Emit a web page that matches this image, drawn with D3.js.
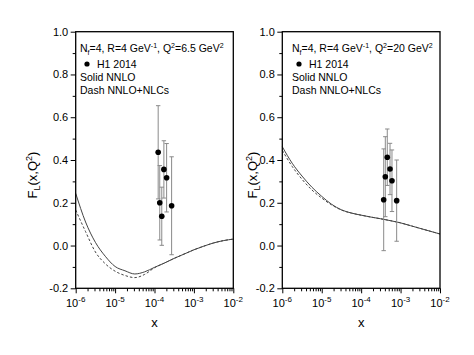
<!DOCTYPE html>
<html><head><meta charset="utf-8">
<script src="https://cdn.jsdelivr.net/npm/d3@7"></script>
<style>body{margin:0;background:#fff}svg{display:block}text{font-family:"Liberation Sans",Arial,sans-serif}</style>
</head><body><svg id="c" width="474" height="355"></svg>
<script>
// ---- data ----
const xGrid = [1e-6,1.78e-6,3.16e-6,5.62e-6,1e-5,1.78e-5,3.16e-5,5.62e-5,1e-4,1.78e-4,3.16e-4,5.62e-4,1e-3,1.78e-3,3.16e-3,5.62e-3,1e-2];
// Q2 = 6.5 GeV^2
const nnloA   = [0.244,0.110,0.015,-0.050,-0.098,-0.118,-0.133,-0.123,-0.102,-0.082,-0.060,-0.040,-0.020,-0.003,0.012,0.023,0.030];
const nlcA    = [0.166,0.065,-0.030,-0.085,-0.120,-0.140,-0.150,-0.135,-0.104,-0.082,-0.060,-0.040,-0.020,-0.003,0.012,0.023,0.030];
const h1xA    = [1.24e-4,1.36e-4,1.53e-4,1.73e-4,2.03e-4,2.72e-4];
const h1yA    = [0.436,0.200,0.137,0.356,0.317,0.186];
const h1eA    = [0.218,0.174,0.136,0.134,0.160,0.229];
// Q2 = 20 GeV^2
const nnloB   = [0.462,0.385,0.325,0.273,0.230,0.193,0.167,0.152,0.142,0.133,0.125,0.116,0.106,0.093,0.080,0.067,0.054];
const nlcB    = [0.445,0.370,0.310,0.260,0.222,0.190,0.166,0.152,0.142,0.133,0.125,0.116,0.106,0.093,0.080,0.067,0.054];
const h1xB    = [3.73e-4,4.10e-4,4.60e-4,5.40e-4,6.05e-4,7.96e-4];
const h1yB    = [0.214,0.322,0.413,0.358,0.303,0.210];
const h1eB    = [0.238,0.187,0.132,0.120,0.144,0.190];
const yTicks  = [-0.2,0.0,0.2,0.4,0.6,0.8,1.0];
const yMinor  = [-0.1,0.1,0.3,0.5,0.7,0.9];
const xTicks  = [1e-6,1e-5,1e-4,1e-3,1e-2];
const xTickExp = ["-6","-5","-4","-3","-2"];
const q2Labels = ["6.5","20"];

const svg = d3.select("#c");
const panels = [
  {x0:75.7, x1:233.3, lx:80, nnlo:nnloA, nlc:nlcA, hx:h1xA, hy:h1yA, he:h1eA, q2:q2Labels[0], ytx:37},
  {x0:282.3, x1:440, lx:292, nnlo:nnloB, nlc:nlcB, hx:h1xB, hy:h1yB, he:h1eB, q2:q2Labels[1], ytx:257}
];
const yTop = 31.7, yBot = 288.3;
const fmt = v => d3.format(".1f")(v).replace("−","-");

panels.forEach(p => {
  const x = d3.scaleLog().domain([1e-6,1e-2]).range([p.x0,p.x1]);
  const y = d3.scaleLinear().domain([-0.2,1.0]).range([yBot,yTop]);
  const g = svg.append("g");

  // minor x ticks
  const minor = [];
  for (let e=-6; e<-2; e++) for (let m=2; m<=9; m++) minor.push(m*Math.pow(10,e));
  g.append("g").attr("transform",`translate(0,${yBot})`)
    .call(d3.axisBottom(x).tickValues(minor).tickSize(3).tickFormat(""))
    .call(a=>a.select(".domain").remove())
    .selectAll("line").attr("stroke","#000").attr("stroke-width",1);
  const xa = g.append("g").attr("transform",`translate(0,${yBot})`)
    .call(d3.axisBottom(x).tickValues(xTicks).tickSize(5).tickFormat(""));
  xa.select(".domain").remove();
  xa.selectAll("line").attr("stroke","#000").attr("stroke-width",1);
  xTicks.forEach((t,i)=>{
    const tx = g.append("text").attr("x",x(t)).attr("y",307).attr("text-anchor","middle")
      .attr("font-size",11).attr("fill","#000");
    tx.append("tspan").text("10");
    tx.append("tspan").attr("dy",-5).attr("font-size",8).text(xTickExp[i]);
  });
  g.append("text").attr("x",(p.x0+p.x1)/2).attr("y",327).attr("text-anchor","middle")
    .attr("font-size",13).text("x");

  // y axis
  g.append("g").attr("transform",`translate(${p.x0},0)`)
    .call(d3.axisLeft(y).tickValues(yMinor).tickSize(3).tickFormat(""))
    .call(a=>a.select(".domain").remove())
    .selectAll("line").attr("stroke","#000");
  const ya = g.append("g").attr("transform",`translate(${p.x0},0)`)
    .call(d3.axisLeft(y).tickValues(yTicks).tickSize(5).tickPadding(2.5).tickFormat(fmt));
  ya.select(".domain").remove();
  ya.selectAll("line").attr("stroke","#000");
  ya.selectAll("text").attr("font-size",11).attr("fill","#000")
    .attr("font-family",'"Liberation Sans",Arial,sans-serif');

  const yt = g.append("text").attr("transform",`translate(${p.ytx},175) rotate(-90)`)
    .attr("text-anchor","middle").attr("font-size",13);
  yt.append("tspan").text("F");
  yt.append("tspan").attr("dy",3).attr("font-size",9).text("L");
  yt.append("tspan").attr("dy",-3).text("(x,Q");
  yt.append("tspan").attr("dy",-5).attr("font-size",9).text("2");
  yt.append("tspan").attr("dy",5).text(")");

  // curves
  const line = d3.line().x((d,i)=>x(xGrid[i])).y(d=>y(d)).curve(d3.curveMonotoneX);
  g.append("path").datum(p.nlc).attr("d",line).attr("fill","none")
    .attr("stroke","#444").attr("stroke-width",1).attr("stroke-dasharray","2.5,2");
  g.append("path").datum(p.nnlo).attr("d",line).attr("fill","none")
    .attr("stroke","#444").attr("stroke-width",1);

  // error bars
  const eb = g.append("g").attr("stroke","#8a8a8a").attr("stroke-width",1);
  p.hx.forEach((xv,i)=>{
    const cx = x(xv), yh = y(p.hy[i]+p.he[i]), yl = y(p.hy[i]-p.he[i]);
    eb.append("line").attr("x1",cx).attr("x2",cx).attr("y1",yh).attr("y2",yl);
    eb.append("line").attr("x1",cx-2.2).attr("x2",cx+2.2).attr("y1",yh).attr("y2",yh);
    eb.append("line").attr("x1",cx-2.2).attr("x2",cx+2.2).attr("y1",yl).attr("y2",yl);
  });
  g.selectAll("circle.pt").data(p.hx).join("circle").attr("class","pt")
    .attr("cx",d=>x(d)).attr("cy",(d,i)=>y(p.hy[i])).attr("r",2.8).attr("fill","#000");

  // frame
  g.append("rect").attr("x",p.x0).attr("y",yTop).attr("width",p.x1-p.x0).attr("height",yBot-yTop)
    .attr("fill","none").attr("stroke","#000").attr("stroke-width",1.3);

  // legend
  const l1 = g.append("text").attr("x",p.lx).attr("y",52).attr("font-size",10.5);
  l1.append("tspan").text("N");
  l1.append("tspan").attr("dy",2.5).attr("font-size",7).text("f");
  l1.append("tspan").attr("dy",-2.5).text("=4, R=4 GeV");
  l1.append("tspan").attr("dy",-4).attr("font-size",7).text("-1");
  l1.append("tspan").attr("dy",4).text(", Q");
  l1.append("tspan").attr("dy",-4).attr("font-size",7).text("2");
  l1.append("tspan").attr("dy",4).text("=" + p.q2 + " GeV");
  l1.append("tspan").attr("dy",-4).attr("font-size",7).text("2");
  g.append("circle").attr("cx",p.lx+7).attr("cy",64).attr("r",2.6).attr("fill","#000");
  g.append("text").attr("x",p.lx+17).attr("y",68).attr("font-size",10.5).text("H1 2014");
  g.append("text").attr("x",p.lx).attr("y",81).attr("font-size",10.5).text("Solid NNLO");
  g.append("text").attr("x",p.lx).attr("y",94).attr("font-size",10.5).text("Dash NNLO+NLCs");
});
</script></body></html>
